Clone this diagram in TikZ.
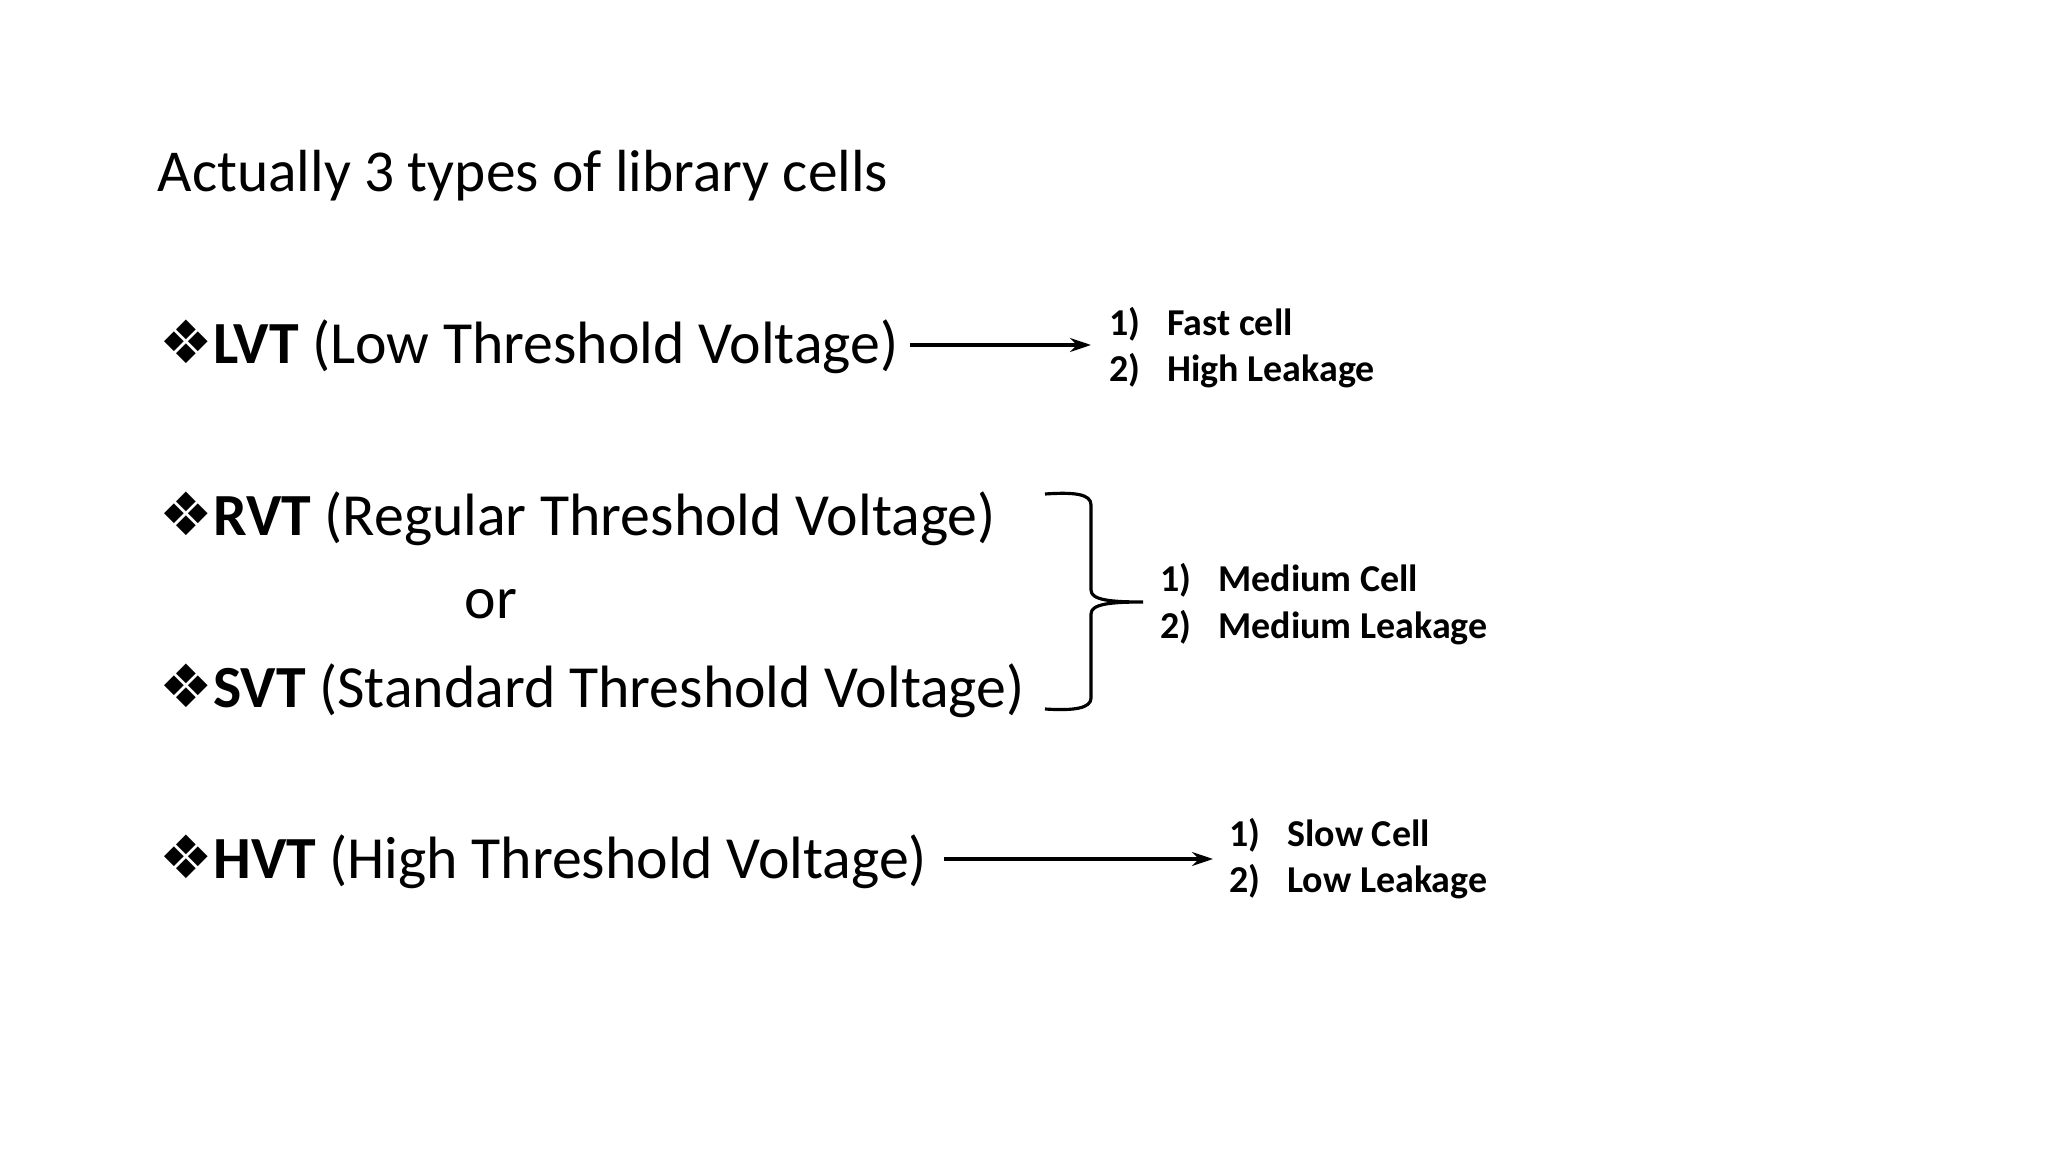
\documentclass[tikz,border=0pt]{standalone}
\usepackage{fontspec}
\setmainfont{Carlito}
\newfontfamily\djv{DejaVu Sans}
\usetikzlibrary{arrows.meta}
\tikzset{
 big/.style={anchor=base west,inner sep=0pt,font=\fontsize{17}{19}\selectfont},
 small/.style={anchor=base west,inner sep=0pt,font=\bfseries\fontsize{10.8}{12}\selectfont},
 conn/.style={line width=0.9pt,-{Stealth[length=6pt,width=4pt]}}
}
\newcommand{\dia}{{\djv\char"2756}}
\begin{document}
\begin{tikzpicture}[x=0.01cm,y=-0.01cm]
\useasboundingbox (0,0) rectangle (2048,1152);
\node[big,font=\fontsize{16.9}{18}\selectfont] (title) at (157,192) {Actually 3 types of library cells};
\node[big] (lvt) at (159,364) {\dia\textbf{LVT} (Low Threshold Voltage)};
\node[big] (rvt) at (159,535) {\dia\textbf{RVT} (Regular Threshold Voltage)};
\node[big] (or) at (464,619) {or};
\node[big] (svt) at (159,707) {\dia\textbf{SVT} (Standard Threshold Voltage)};
\node[big] (hvt) at (159,878) {\dia\textbf{HVT} (High Threshold Voltage)};
\coordinate (la) at (910,345); \coordinate (lb) at (1091,345);
\draw[conn] (la) -- (lb);
\coordinate (ha) at (944,859); \coordinate (hb) at (1213,859);
\draw[conn] (ha) -- (hb);
\node[small] (l1) at (1109,336) {1)\hspace{0.7em}Fast cell};
\node[small] (l2) at (1109,382) {2)\hspace{0.7em}High Leakage};
\node[small] (m1) at (1160,592) {1)\hspace{0.7em}Medium Cell};
\node[small] (m2) at (1160,638) {2)\hspace{0.7em}Medium Leakage};
\node[small] (h1) at (1229,846) {1)\hspace{0.7em}Slow Cell};
\node[small] (h2) at (1229,892) {2)\hspace{0.7em}Low Leakage};
\draw[line width=0.9pt] (1045,494) .. controls (1075,492) and (1091,494) .. (1091,505)
 -- (1091,590) .. controls (1091,600) and (1110,602) .. (1143,602)
 .. controls (1110,602) and (1091,604) .. (1091,614) -- (1091,698)
 .. controls (1091,708) and (1075,711) .. (1045,709);
\end{tikzpicture}
\end{document}
